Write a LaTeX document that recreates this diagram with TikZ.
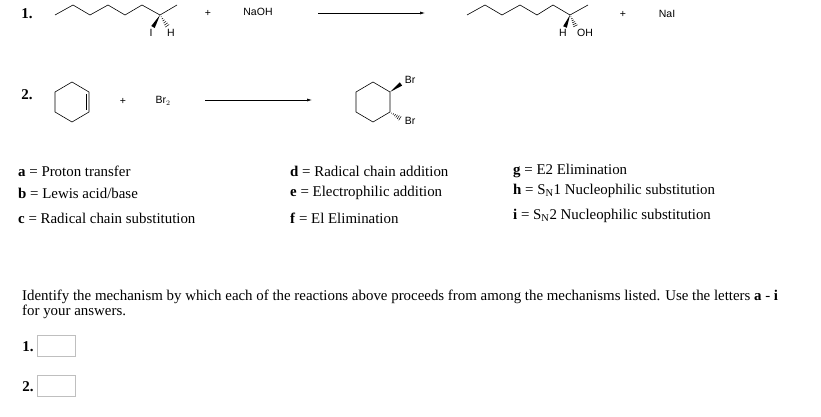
\documentclass[tikz,border=0pt]{standalone}
\usepackage{fontspec}
\setmainfont{Liberation Serif}
\newfontfamily\molfont{Liberation Sans}
\usetikzlibrary{calc,arrows.meta}
\tikzset{
 bond/.style={line width=0.6pt},
 mol/.style={font=\molfont\fontsize{10.5}{11}\selectfont, inner sep=0pt},
 txt/.style={font=\fontsize{14.9}{17}\selectfont, inner sep=0pt, anchor=west},
 num/.style={font=\bfseries\fontsize{15}{17}\selectfont, inner sep=0pt},
 rxn/.style={line width=0.6pt,-{Latex[length=5pt,width=3pt]}},
 ansbox/.style={draw=black!25, line width=0.7pt, minimum width=38pt, minimum height=21pt, inner sep=0pt}
}
\newcommand\mywedge[2]{\fill ($(#1)$) -- ($(#2)!2pt!90:(#1)$) -- ($(#2)!2pt!-90:(#1)$) -- cycle;}
\newcommand\myhash[2]{\foreach \t in {0.15,0.3,0.45,0.6,0.75,0.9}{\coordinate (P) at ($(#1)!\t!(#2)$); \draw[line width=0.5pt] ($(P)!{\t*2.6pt}!90:(#2)$) -- ($(P)!{\t*2.6pt}!-90:(#2)$);}}
\begin{document}
\begin{tikzpicture}[x=1pt,y=-1pt]
\useasboundingbox (0,0) rectangle (821,417);
% reaction 1
\node[num] (n1) at (27,14) {1.};
\draw[bond] (55,15) -- (73,5) -- (90,15) -- (108,5) -- (125,15) -- (142,5) -- (160,15) coordinate (c1) -- (177,5);
\coordinate (iI) at (153,27); \coordinate (iH) at (168,27);
\mywedge{c1}{iI}
\myhash{c1}{iH}
\node[mol] (I) at (151,33) {I};
\node[mol] (H1) at (171,33) {H};
\node[mol] (p1) at (208,13) {+};
\node[mol] (naoh) at (258,12) {NaOH};
\coordinate (a1s) at (318,13); \coordinate (a1e) at (425,13);
\draw[rxn] (a1s) -- (a1e);
\draw[bond] (467,15) -- (485,5) -- (502,15) -- (520,5) -- (537,15) -- (553,5) -- (570,15) coordinate (c2) -- (588,5);
\coordinate (oH) at (565,27); \coordinate (oO) at (576,27);
\mywedge{c2}{oH}
\myhash{c2}{oO}
\node[mol] (H2) at (563,33) {H};
\node[mol] (OH) at (585,33) {OH};
\node[mol] (p2) at (623,14) {+};
\node[mol] (nai) at (667,14) {NaI};
% reaction 2
\node[num] (n2) at (27,95) {2.};
\draw[bond] (72,82) -- (89,92) -- (89,112) -- (72,122) -- (55,112) -- (55,92) -- cycle;
\draw[bond] (86,94) -- (86,110);
\node[mol] (p3) at (123,101) {+};
\node[mol] (br2) at (163,101) {Br$_2$};
\coordinate (a2s) at (205,100); \coordinate (a2e) at (312,100);
\draw[rxn] (a2s) -- (a2e);
\draw[bond] (373,82) -- (390,92) coordinate (r1) -- (390,112) coordinate (r2) -- (373,122) -- (356,112) -- (356,92) -- cycle;
\coordinate (b1) at (401,84); \coordinate (b2) at (401,119);
\mywedge{r1}{b1}
\myhash{r2}{b2}
\node[mol] (Br1) at (410,80) {Br};
\node[mol] (Br2) at (410,121) {Br};
% mechanisms
\node[txt] (ma) at (18,171) {\textbf{a} = Proton transfer};
\node[txt] (mb) at (18,193) {\textbf{b} = Lewis acid/base};
\node[txt] (mc) at (18,218) {\textbf{c} = Radical chain substitution};
\node[txt] (md) at (290,171) {\textbf{d} = Radical chain addition};
\node[txt] (me) at (290,193) {\textbf{e} = Electrophilic addition};
\node[txt] (mf) at (290,218) {\textbf{f} = El Elimination};
\node[txt] (mg) at (513,171) {\textbf{g} = E2 Elimination};
\node[txt] (mh) at (513,191) {\textbf{h} = S$_{\mathrm{N}}$1 Nucleophilic substitution};
\node[txt] (mi) at (513,216) {\textbf{i} = S$_{\mathrm{N}}$2 Nucleophilic substitution};
% question
\node[txt] (q1) at (22,297) {Identify the mechanism by which each of the reactions above proceeds from among the mechanisms listed. Use the letters \textbf{a} - \textbf{i}};
\node[txt] (q2) at (22,312) {for your answers.};
\node[num] (an1) at (28,347) {1.};
\node[ansbox] (box1) at (56,346) {};
\node[num] (an2) at (28,387) {2.};
\node[ansbox] (box2) at (56,386) {};
\end{tikzpicture}
\end{document}
